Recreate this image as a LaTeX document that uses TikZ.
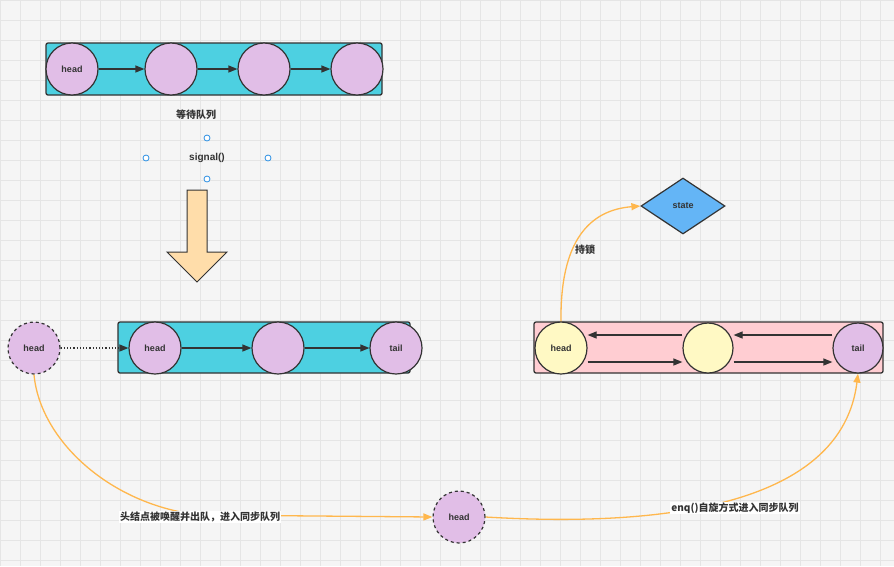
\documentclass[tikz,border=0pt]{standalone}
\usepackage{fontspec}
\setmainfont{Liberation Sans}
\newfontfamily\cjk{Noto Sans CJK SC}
\usetikzlibrary{shapes.geometric,arrows.meta}
\definecolor{cy}{HTML}{4DD0E1}
\definecolor{pu}{HTML}{E1BEE7}
\definecolor{pk}{HTML}{FFCDD2}
\definecolor{ye}{HTML}{FFF9C4}
\definecolor{og}{HTML}{FFB74D}
\definecolor{bl}{HTML}{64B5F6}
\definecolor{pe}{HTML}{FFDDAA}
\definecolor{dk}{HTML}{333333}
\definecolor{hd}{HTML}{2B8FE3}
\tikzset{
 x=1pt,y=-1pt,
 nd/.style={circle,draw=dk,line width=1.2pt,fill=pu,minimum size=52pt,inner sep=0pt,font=\bfseries\small,text=dk},
 dn/.style={nd,dashed},
 ynd/.style={nd,fill=ye},
 box/.style={draw=dk,line width=1.3pt,rounded corners=2pt},
 ar/.style={draw=dk,line width=1.2pt,-{Triangle[length=9pt,width=7pt]}},
 oa/.style={draw=og,line width=1.3pt,-{Triangle[length=9pt,width=7pt]}},
 lbl/.style={font=\cjk\bfseries,text=dk,inner sep=1pt},
 hdl/.style={circle,draw=hd,fill=white,minimum size=6pt,inner sep=0pt,line width=0.8pt}
}
\begin{document}
\begin{tikzpicture}
\useasboundingbox (0,0) rectangle (894,566);
\fill[gray!8] (0,0) rectangle (894,566);
\draw[gray!20,line width=0.4pt] (0,0) grid[step=20pt] (894,566);
% top queue
\draw[box,fill=cy] (46,43) rectangle (382,95);
\node[nd] (t1) at (72,69) {head};
\node[nd] (t2) at (171,69) {};
\node[nd] (t3) at (264,69) {};
\node[nd] (t4) at (357,69) {};
\draw[ar] (t1) -- (t2); \draw[ar] (t2) -- (t3); \draw[ar] (t3) -- (t4);
\node[lbl] (wq) at (196,115) {等待队列};
\node[font=\bfseries,text=dk] (sig) at (207,158) {signal()};
\node[hdl] (h1) at (207,138) {};
\node[hdl] (h2) at (146,158) {};
\node[hdl] (h3) at (268,158) {};
\node[hdl] (h4) at (207,179) {};
\draw[draw=dk,line width=1pt,fill=pe] (187,190) -- (207,190) -- (207,252) -- (227,252) -- (197,282) -- (167,252) -- (187,252) -- cycle;
% middle queue
\draw[box,fill=cy] (118,322) rectangle (410,373);
\node[dn] (d0) at (34,348) {head};
\node[nd] (m1) at (155,348) {head};
\node[nd] (m2) at (278,348) {};
\node[nd] (m3) at (396,348) {tail};
\draw[ar,dotted] (d0) -- (m1);
\draw[ar] (m1) -- (m2); \draw[ar] (m2) -- (m3);
% bottom head
\node[dn] (d1) at (459,517) {head};
\draw[oa] (d0.south) .. controls (40,440) and (110,505) .. (200,515) -- (d1.west);
\node[lbl,fill=white] at (200,517) {头结点被唤醒并出队，进入同步队列};
% right queue
\draw[box,fill=pk] (534,322) rectangle (883,373);
\node[ynd] (r1) at (561,348) {head};
\node[ynd,minimum size=50pt] (r2) at (708,348) {};
\node[nd,minimum size=50pt] (r3) at (858,348) {tail};
\draw[ar] ([yshift=-14pt]r1.east) -- ([yshift=-14pt]r2.west);
\draw[ar] ([yshift=13pt]r2.west) -- ([yshift=13pt]r1.east);
\draw[ar] ([yshift=-14pt]r2.east) -- ([yshift=-14pt]r3.west);
\draw[ar] ([yshift=13pt]r3.west) -- ([yshift=13pt]r2.east);
\draw[oa] (d1.east) .. controls (620,525) and (840,520) .. (r3.south);
\node[lbl,fill=white] at (735,508) {enq()自旋方式进入同步队列};
% state
\node[diamond,draw=dk,line width=1.2pt,fill=bl,minimum width=84pt,minimum height=56pt,inner sep=0pt,font=\bfseries\small,text=dk] (st) at (683,206) {state};
\draw[oa] (r1.north) .. controls (560,240) and (590,210) .. (st.west);
\node[lbl] at (585,250) {持锁};
\end{tikzpicture}
\end{document}
